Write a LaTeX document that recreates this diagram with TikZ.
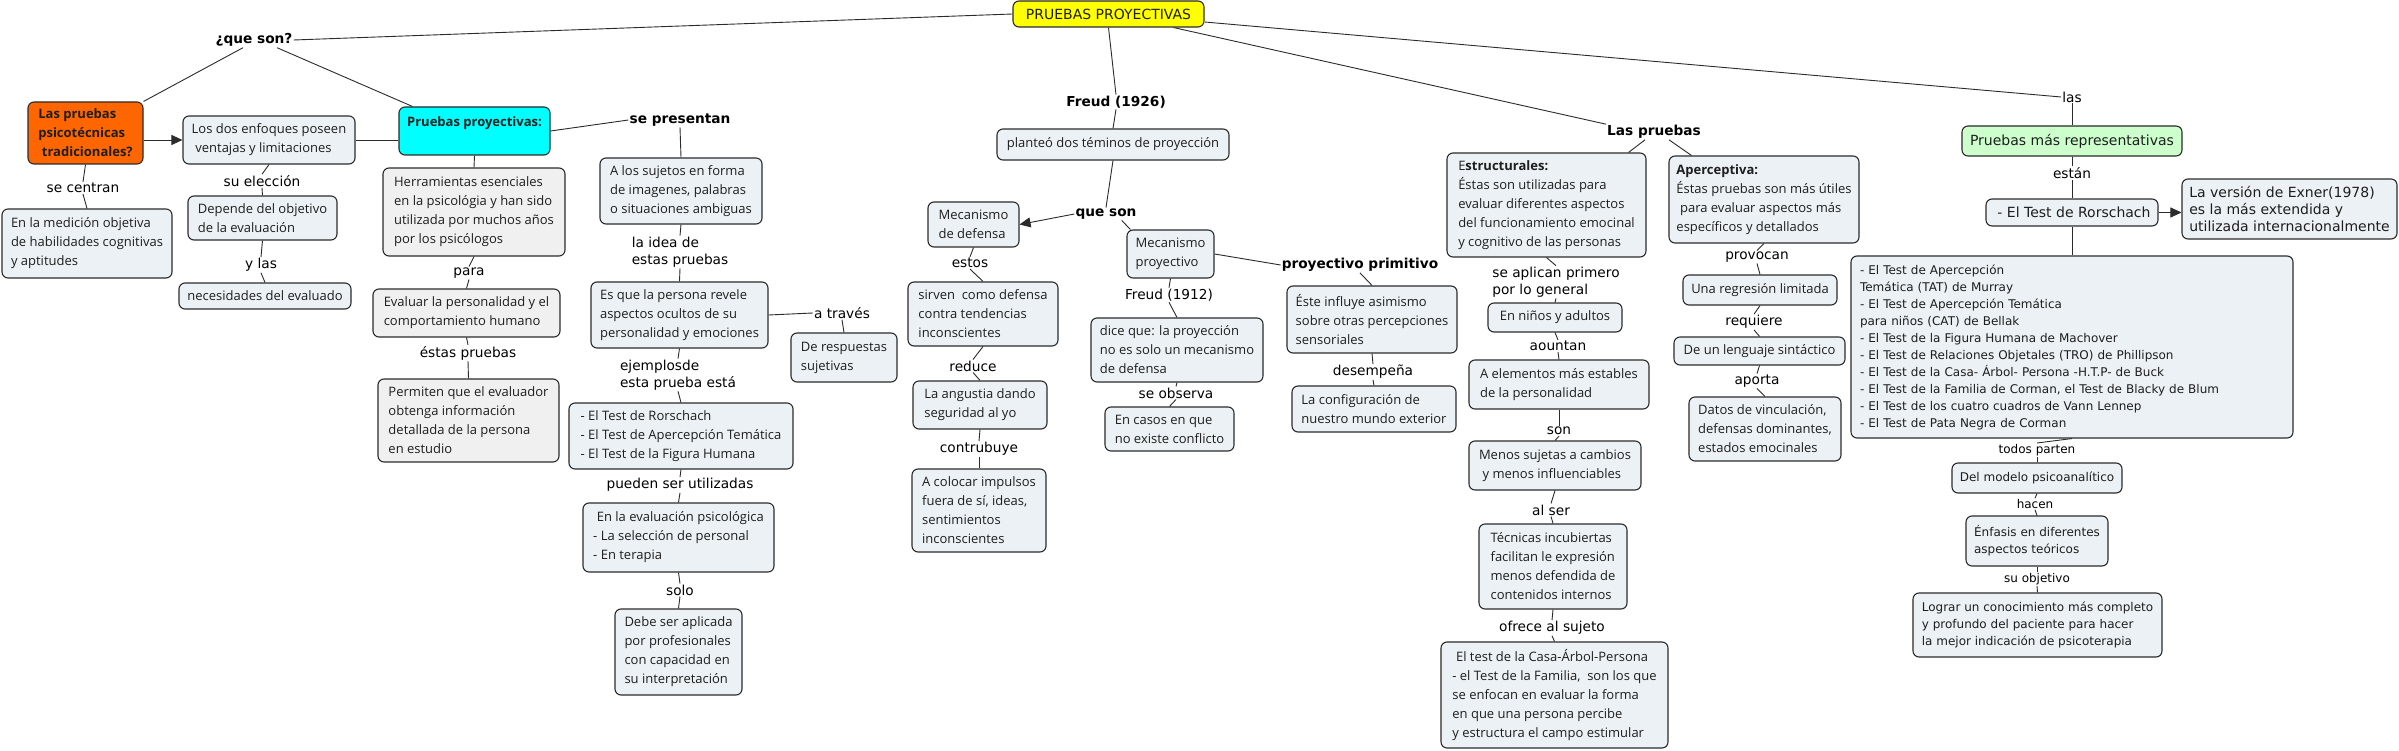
\documentclass[tikz,border=0pt]{standalone}
\usepackage{fontspec}
\setmainfont{Open Sans}
\newfontfamily\dvfont{DejaVu Sans}
\usetikzlibrary{arrows.meta}
\definecolor{nfill}{HTML}{EBF1F4}
\definecolor{gfill}{HTML}{F0F0F0}
\definecolor{yel}{HTML}{FFFF00}
\definecolor{ora}{HTML}{FF6600}
\definecolor{cya}{HTML}{00FFFF}
\definecolor{grn}{HTML}{CCFFCC}
\definecolor{edge}{HTML}{2B2B2B}
\definecolor{txt}{HTML}{1E1E1E}
\newcommand\bx[7][]{\node[box,#1,minimum width={(#5)-(#3)},minimum height={(#6)-(#4)}] (#2) at ({((#3)+(#5))/2},{((#4)+(#6))/2}) {#7};}
\newcommand\ls{\hspace*{0.28em}}
\begin{document}
\begin{tikzpicture}[x=1pt,y=-1pt,
  box/.style={draw=edge,line width=1.1pt,rounded corners=6pt,fill=nfill,align=left,inner sep=2pt,text=txt,font=\fontsize{13}{19}\selectfont},
  gbox/.style={fill=gfill},
  rbox/.style={font=\dvfont\fontsize{12}{17}\selectfont},
  rboxl/.style={font=\dvfont\fontsize{14}{17}\selectfont},
  lbl/.style={font=\dvfont\fontsize{13.7}{17}\selectfont,inner sep=1pt,align=left,text=black},
  blbl/.style={lbl,font=\dvfont\bfseries\fontsize{13.7}{17}\selectfont},
  slbl/.style={lbl,font=\dvfont\fontsize{12}{15}\selectfont},
  conn/.style={draw=edge,line width=0.9pt},
  arr/.style={conn,-{Triangle[length=11pt,width=10pt]}}]
\fill[white] (0,0) rectangle (2399,751);
\useasboundingbox (0,0) rectangle (2399,751);

% ---------- boxes ----------
\bx[fill=yel,rboxl]{pp}{1013}{1}{1204}{27}{PRUEBAS PROYECTIVAS}
\bx[fill=ora,font=\bfseries\fontsize{13}{19}\selectfont]{or}{28}{102}{143}{164}{Las pruebas\\psicotécnicas\\\ls tradicionales?}
\bx{le}{183}{116}{355}{164}{Los dos enfoques poseen\\\ls ventajas y limitaciones}
\bx[fill=cya]{cy}{399}{107}{550}{155}{\textbf{Pruebas proyectivas:}\\\mbox{}}
\bx{med}{2}{209}{172}{278}{En la medición objetiva\\de habilidades cognitivas\\y aptitudes}
\bx{dep}{188}{196}{337}{240}{Depende del objetivo\\de la evaluación}
\bx{nec}{179}{283}{351}{309}{necesidades del evaluado}
\bx[gbox]{her}{383}{168}{565}{256}{Herramientas esenciales\\en la psicológia y han sido\\utilizada por muchos años\\por los psicólogos}
\bx[gbox]{ev}{373}{289}{560}{337}{Evaluar la personalidad y el\\comportamiento humano}
\bx[gbox]{perm}{378}{379}{559}{462}{Permiten que el evaluador\\obtenga información\\detallada de la persona\\en estudio}
\bx{suj}{600}{158}{762}{224}{A los sujetos en forma\\de imagenes, palabras\\o situaciones ambiguas}
\bx{eq}{591}{282}{768}{348}{Es que la persona revele\\aspectos ocultos de su\\personalidad y emociones}
\bx{dr}{791}{333}{897}{382}{De respuestas\\sujetivas}
\bx{tests}{569}{403}{793}{469}{- El Test de Rorschach\\- El Test de Apercepción Temática\\- El Test de la Figura Humana}
\bx{enev}{583}{503}{774}{572}{\ls En la evaluación psicológica\\- La selección de personal\\- En terapia}
\bx{debe}{615}{609}{742}{695}{Debe ser aplicada\\por profesionales\\con capacidad en\\su interpretación}
\bx{pl}{997}{129}{1229}{160}{planteó dos téminos de proyección}
\bx{md}{928}{202}{1019}{247}{Mecanismo\\de defensa}
\bx{sir}{908}{282}{1058}{346}{sirven\ \ como defensa\\contra tendencias\\inconscientes}
\bx{ang}{913}{381}{1047}{429}{La angustia dando\\seguridad al yo}
\bx{col}{912}{469}{1046}{552}{A colocar impulsos\\fuera de sí, ideas,\\sentimientos\\inconscientes}
\bx{mp}{1127}{230}{1214}{278}{Mecanismo\\proyectivo}
\bx{dice}{1091}{318}{1263}{382}{dice que: la proyección\\no es solo un mecanismo\\de defensa}
\bx{cas}{1105}{407}{1234}{451}{En casos en que\\no existe conflicto}
\bx{este}{1287}{286}{1457}{353}{Éste influye asimismo\\sobre otras percepciones\\sensoriales}
\bx{conf}{1292}{386}{1456}{432}{La configuración de\\nuestro mundo exterior}
\bx{estr}{1447}{153}{1646}{257}{E\textbf{structurales:}\\Éstas son utilizadas para\\evaluar diferentes aspectos\\del funcionamiento emocinal\\y cognitivo de las personas}
\bx{nin}{1488}{303}{1622}{332}{En niños y adultos}
\bx{ael}{1469}{360}{1649}{409}{A elementos más estables\\de la personalidad}
\bx{men}{1469}{441}{1641}{490}{Menos sujetas a cambios\\\ls y menos influenciables}
\bx{tec}{1479}{524}{1627}{609}{Técnicas incubiertas\\facilitan le expresión\\menos defendida de\\contenidos internos}
\bx{htp}{1441}{642}{1668}{748}{\ls El test de la Casa-Árbol-Persona\\- el Test de la Familia,\ \ son los que\\se enfocan en evaluar la forma\\en que una persona percibe\\y estructura el campo estimular}
\bx{aper}{1669}{156}{1859}{243}{\textbf{Aperceptiva:}\\Éstas pruebas son más útiles\\\ls para evaluar aspectos más\\específicos y detallados}
\bx{reg}{1683}{275}{1837}{305}{Una regresión limitada}
\bx{len}{1674}{337}{1845}{365}{De un lenguaje sintáctico}
\bx{dat}{1689}{397}{1841}{461}{Datos de vinculación,\\defensas dominantes,\\estados emocinales}
\bx[fill=grn,rboxl]{gr}{1962}{126}{2182}{156}{Pruebas más representativas}
\bx[rboxl]{ro}{1986}{199}{2158}{226}{\ls - El Test de Rorschach}
\bx[rboxl]{ex}{2182}{179}{2397}{239}{La versión de Exner(1978)\\es la más extendida y\\utilizada internacionalmente}
\bx[rbox,text width=424pt]{list}{1851}{256}{2293}{438}{- El Test de Apercepción\\Temática (TAT) de Murray\\- El Test de Apercepción Temática\\para niños (CAT) de Bellak\\- El Test de la Figura Humana de Machover\\- El Test de Relaciones Objetales (TRO) de Phillipson\\- El Test de la Casa- Árbol- Persona -H.T.P- de Buck\\- El Test de la Familia de Corman, el Test de Blacky de Blum\\- El Test de los cuatro cuadros de Vann Lennep\\- El Test de Pata Negra de Corman}
\bx[rbox]{dm}{1952}{463}{2122}{493}{Del modelo psicoanalítico}
\bx[rbox]{enf}{1966}{516}{2108}{566}{Énfasis en diferentes\\aspectos teóricos}
\bx[rbox]{lo}{1913}{593}{2162}{657}{Lograr un conocimiento más completo\\y profundo del paciente para hacer\\la mejor indicación de psicoterapia}

% ---------- labels ----------
\node[blbl] (qs) at (254,40) {¿que son?};
\node[lbl] (sc) at (83,188) {se centran};
\node[lbl] (se) at (262,181) {su elección};
\node[lbl] (yl) at (261,265) {y las};
\node[lbl] (para) at (469,273) {para};
\node[lbl] (ep) at (468,353) {éstas pruebas};
\node[blbl] (sp) at (680,120) {se presentan};
\node[lbl] (id) at (680,252) {la idea de\\estas pruebas};
\node[lbl] (at) at (842,313) {a través};
\node[lbl] (ej) at (678,375) {ejemplosde\\esta prueba está};
\node[lbl] (pu) at (680,485) {pueden ser utilizadas};
\node[lbl] (so) at (680,590) {solo};
\node[blbl] (f26) at (1116,102) {Freud (1926)};
\node[blbl] (qs2) at (1106,214) {que son};
\node[lbl] (es) at (970,263) {estos};
\node[lbl] (re) at (973,366) {reduce};
\node[lbl] (co) at (979,449) {contrubuye};
\node[lbl] (f12) at (1169,295) {Freud (1912)};
\node[lbl] (sob) at (1176,393) {se observa};
\node[blbl] (ppr) at (1360,265) {proyectivo primitivo};
\node[lbl] (de) at (1373,372) {desempeña};
\node[blbl] (lp) at (1654,132) {Las pruebas};
\node[lbl] (sa) at (1556,282) {se aplican primero\\por lo general};
\node[lbl] (ao) at (1558,346) {aountan};
\node[lbl] (son) at (1559,431) {son};
\node[lbl] (als) at (1551,510) {al ser};
\node[lbl] (of) at (1552,628) {ofrece al sujeto};
\node[lbl] (pr) at (1757,257) {provocan};
\node[lbl] (rq) at (1754,322) {requiere};
\node[lbl] (apo) at (1757,381) {aporta};
\node[lbl] (las) at (2072,97) {las};
\node[lbl] (est) at (2072,173) {están};
\node[slbl] (tp) at (2037,450) {todos parten};
\node[slbl] (ha) at (2035,504) {hacen};
\node[slbl] (su) at (2037,579) {su objetivo};

% ---------- connectors ----------
\draw[conn] (pp.west) -- (qs.east);
\draw[conn] ([xshift=-11pt]qs.south) -- (or.north east);
\draw[conn] ([xshift=23pt]qs.south) -- ([xshift=14pt]cy.north west);
\draw[arr] (or.east |- le.west) -- (le.west);
\draw[conn] (le.east) -- (le.east -| cy.west);
\draw[conn] (or.south) -- (sc.north);
\draw[conn] (sc.south) -- (med.north);
\draw[conn] (le.south) -- (se.north);
\draw[conn] (se.south) -- (dep.north);
\draw[conn] (dep.south) -- (yl.north);
\draw[conn] (yl.south) -- (nec.north);
\draw[conn] (cy.south) -- (her.north);
\draw[conn] (her.south) -- (para.north);
\draw[conn] (para.south) -- (ev.north);
\draw[conn] (ev.south) -- (ep.north);
\draw[conn] (ep.south) -- (perm.north);
\draw[conn] (cy.east) -- (sp.west);
\draw[conn] (sp.south) -- (suj.north);
\draw[conn] (suj.south) -- (id.north);
\draw[conn] (id.south) -- (eq.north);
\draw[conn] (eq.east) -- (at.west);
\draw[conn] (at.south) -- (dr.north);
\draw[conn] (eq.south) -- (ej.north);
\draw[conn] (ej.south) -- (tests.north);
\draw[conn] (tests.south) -- (pu.north);
\draw[conn] (pu.south) -- (enev.north);
\draw[conn] (enev.south) -- (so.north);
\draw[conn] (so.south) -- (debe.north);
\draw[conn] (pp.south) -- (f26.north);
\draw[conn] (f26.south) -- (pl.north);
\draw[conn] (pl.south) -- (qs2.north);
\draw[arr] (qs2.west) -- (md.east);
\draw[conn] ([xshift=-16pt]qs2.south east) -- ([xshift=4pt]mp.north west);
\draw[conn] (md.south) -- (es.north);
\draw[conn] (es.south) -- (sir.north);
\draw[conn] (sir.south) -- (re.north);
\draw[conn] (re.south) -- (ang.north);
\draw[conn] (ang.south) -- (co.north);
\draw[conn] (co.south) -- (col.north);
\draw[conn] (mp.south) -- (f12.north);
\draw[conn] (f12.south) -- (dice.north);
\draw[conn] (dice.south) -- (sob.north);
\draw[conn] (sob.south) -- (cas.north);
\draw[conn] (mp.east) -- (ppr.west);
\draw[conn] (ppr.south) -- (este.north);
\draw[conn] (este.south) -- (de.north);
\draw[conn] (de.south) -- (conf.north);
\draw[conn] ([xshift=-31pt]pp.south east) -- (lp.north west);
\draw[conn] ([xshift=-9pt]lp.south) -- ([xshift=-18pt]estr.north east);
\draw[conn] ([xshift=15pt]lp.south) -- ([xshift=23pt]aper.north west);
\draw[conn] (estr.south) -- (sa.north);
\draw[conn] (sa.south) -- (nin.north);
\draw[conn] (nin.south) -- (ao.north);
\draw[conn] (ao.south) -- (ael.north);
\draw[conn] (ael.south) -- (son.north);
\draw[conn] (son.south) -- (men.north);
\draw[conn] (men.south) -- (als.north);
\draw[conn] (als.south) -- (tec.north);
\draw[conn] (tec.south) -- (of.north);
\draw[conn] (of.south) -- (htp.north);
\draw[conn] (aper.south) -- (pr.north);
\draw[conn] (pr.south) -- (reg.north);
\draw[conn] (reg.south) -- (rq.north);
\draw[conn] (rq.south) -- (len.north);
\draw[conn] (len.south) -- (apo.north);
\draw[conn] (apo.south) -- (dat.north);
\draw[conn] ([yshift=-8pt]pp.east) -- (las.west);
\draw[conn] (las.south) -- (gr.north);
\draw[conn] (gr.south) -- (est.north);
\draw[conn] (est.south) -- (ro.north);
\draw[arr] (ro.east) -- (ro.east -| ex.west);
\draw[conn] (ro.south) -- (list.north);
\draw[conn] (list.south) -- (tp.north);
\draw[conn] (tp.south) -- (dm.north);
\draw[conn] (dm.south) -- (ha.north);
\draw[conn] (ha.south) -- (enf.north);
\draw[conn] (enf.south) -- (su.north);
\draw[conn] (su.south) -- (lo.north);
\end{tikzpicture}
\end{document}
